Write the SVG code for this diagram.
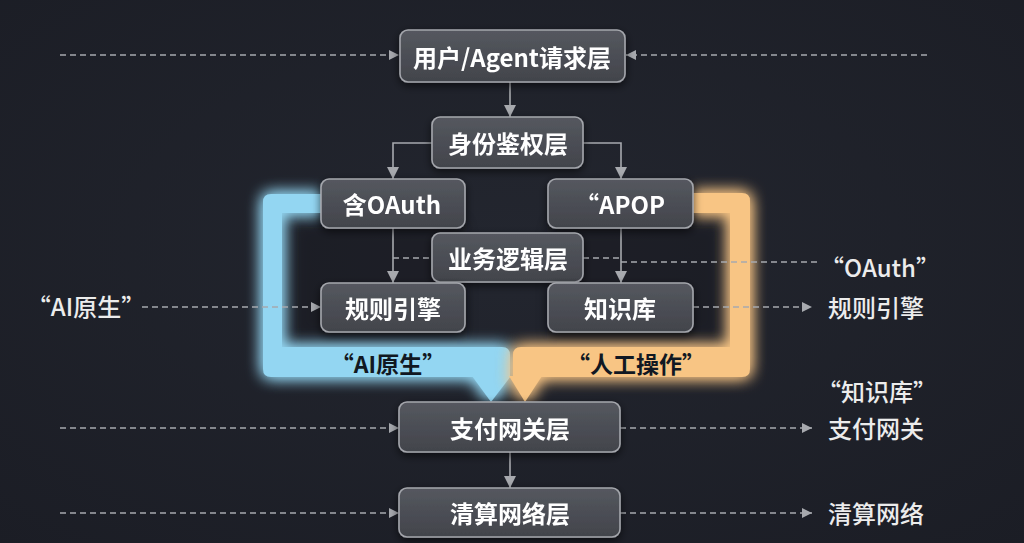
<svg xmlns="http://www.w3.org/2000/svg" width="1024" height="543" viewBox="0 0 1024 543">
  <defs>
    <radialGradient id="bg" cx="50%" cy="45%" r="75%">
      <stop offset="0" stop-color="#23262f"/>
      <stop offset="1" stop-color="#1b1d25"/>
    </radialGradient>
    <linearGradient id="nodeFill" x1="0" y1="0" x2="0" y2="1">
      <stop offset="0" stop-color="#55585f"/>
      <stop offset="1" stop-color="#42444b"/>
    </linearGradient>
    <filter id="glow" x="-30%" y="-30%" width="160%" height="160%">
      <feGaussianBlur in="SourceGraphic" stdDeviation="8" result="b"/>
      <feMerge><feMergeNode in="b"/><feMergeNode in="b"/><feMergeNode in="SourceGraphic"/></feMerge>
    </filter>
    <filter id="shadow" x="-20%" y="-30%" width="140%" height="170%">
      <feGaussianBlur in="SourceAlpha" stdDeviation="4"/>
      <feOffset dy="3" result="o"/>
      <feComponentTransfer><feFuncA type="linear" slope="0.6"/></feComponentTransfer>
      <feMerge><feMergeNode/><feMergeNode in="SourceGraphic"/></feMerge>
    </filter>
    <filter id="soft" x="-20%" y="-20%" width="140%" height="140%">
      <feGaussianBlur stdDeviation="8"/>
    </filter>
    <marker id="arr" viewBox="0 0 10 10" refX="10" refY="5" markerWidth="10" markerHeight="10" markerUnits="userSpaceOnUse" orient="auto">
      <path d="M0,0 L10,5 L0,10 Z" fill="#a7a9ae"/>
    </marker>
    <marker id="arrS" viewBox="0 0 12 12" refX="12" refY="6" markerWidth="12" markerHeight="12" markerUnits="userSpaceOnUse" orient="auto">
      <path d="M0,0 L12,6 L0,12 Z" fill="#a7a9ae"/>
    </marker>
  </defs>
  <style>
    .node rect { fill: url(#nodeFill); stroke: #a4a6ac; stroke-width: 1.6; }
    .node text { font-family: "Noto Sans CJK SC", "Noto Sans", sans-serif; font-size: 24px; font-weight: 700; fill: #ffffff; text-anchor: middle; dominant-baseline: central; }
    .side { font-family: "Noto Sans CJK SC", "Noto Sans", sans-serif; font-size: 24px; font-weight: 500; fill: #ececec; text-anchor: middle; dominant-baseline: central; }
    .band { font-family: "Noto Sans CJK SC", "Noto Sans", sans-serif; font-size: 23px; font-weight: 700; fill: #111822; text-anchor: middle; dominant-baseline: central; }
    .solid { fill: none; stroke: #a7a9ae; stroke-width: 1.6; }
    .dash { fill: none; stroke: #a7a9ae; stroke-width: 1.6; stroke-dasharray: 6 4; }
  </style>

  <rect x="0" y="0" width="1024" height="543" fill="url(#bg)"/>

  <!-- dark shadow inside highlight bands -->
  <rect x="292" y="222" width="170" height="118" fill="#14161c" opacity="0.4" filter="url(#soft)"/>
  <rect x="552" y="222" width="170" height="118" fill="#14161c" opacity="0.4" filter="url(#soft)"/>

  <!-- highlight bands -->
  <g id="band-ai">
    <g filter="url(#glow)">
      <path d="M321 194 L271 194 Q263 194 263 202 L263 369 Q263 377 271 377 L510 377 L510 355 Q510 347 502 347 L282 347 L282 213 L321 213 Z" fill="#93d6f2"/>
      <path d="M472 376 L511 376 L491 402 Z" fill="#93d6f2"/>
    </g>
    <text class="band" x="388" y="363">“AI原生”</text>
  </g>
  <g id="band-manual">
    <g filter="url(#glow)">
      <path d="M693 193 L742 193 Q750 193 750 201 L750 369 Q750 377 742 377 L513 377 L513 355 Q513 347 521 347 L730 347 L730 213 L693 213 Z" fill="#f8c584"/>
      <path d="M509 376 L542 376 L525 402 Z" fill="#f8c584"/>
    </g>
    <text class="band" x="636" y="363">“人工操作”</text>
  </g>

  <!-- connectors -->
  <g id="connectors">
    <path class="solid" d="M510 82 L510 117" marker-end="url(#arrS)"/>
    <path class="solid" d="M432 143 L393 143 L393 179" marker-end="url(#arrS)"/>
    <path class="solid" d="M583 143 L621 143 L621 179" marker-end="url(#arrS)"/>
    <path class="solid" d="M393 228 L393 283" marker-end="url(#arrS)"/>
    <path class="solid" d="M621 228 L621 283" marker-end="url(#arrS)"/>
    <path class="solid" d="M510 452 L510 488" marker-end="url(#arrS)"/>

    <path class="dash" d="M393 258 L432 258"/>
    <path class="dash" d="M583 258 L621 258"/>
    <path class="dash" d="M621 262 L819 262"/>

    <path class="dash" d="M60 55 L399 55" marker-end="url(#arr)"/>
    <path class="dash" d="M927 55 L626 55" marker-end="url(#arr)"/>
    <path class="dash" d="M142 307 L321 307" marker-end="url(#arr)"/>
    <path class="dash" d="M693 307 L812 307" marker-end="url(#arr)"/>
    <path class="dash" d="M60 428 L399 428" marker-end="url(#arr)"/>
    <path class="dash" d="M620 428 L812 428" marker-end="url(#arr)"/>
    <path class="dash" d="M60 513 L399 513" marker-end="url(#arr)"/>
    <path class="dash" d="M620 513 L812 513" marker-end="url(#arr)"/>
  </g>

  <!-- nodes -->
  <g id="n-request" class="node" filter="url(#shadow)">
    <rect x="400" y="30" width="225" height="52" rx="8"/>
    <text x="512" y="56">用户/Agent请求层</text>
  </g>
  <g id="n-auth" class="node" filter="url(#shadow)">
    <rect x="432" y="117" width="151" height="51" rx="8"/>
    <text x="508" y="142">身份鉴权层</text>
  </g>
  <g id="n-oauth" class="node" filter="url(#shadow)">
    <rect x="321" y="179" width="144" height="49" rx="8"/>
    <text x="392" y="203">含OAuth</text>
  </g>
  <g id="n-apop" class="node" filter="url(#shadow)">
    <rect x="548" y="179" width="145" height="49" rx="8"/>
    <text x="620" y="203">“APOP</text>
  </g>
  <g id="n-biz" class="node" filter="url(#shadow)">
    <rect x="432" y="233" width="151" height="49" rx="8"/>
    <text x="508" y="257">业务逻辑层</text>
  </g>
  <g id="n-rules" class="node" filter="url(#shadow)">
    <rect x="321" y="283" width="144" height="49" rx="8"/>
    <text x="393" y="307">规则引擎</text>
  </g>
  <g id="n-kb" class="node" filter="url(#shadow)">
    <rect x="548" y="283" width="145" height="49" rx="8"/>
    <text x="620" y="307">知识库</text>
  </g>
  <g id="n-gateway" class="node" filter="url(#shadow)">
    <rect x="399" y="402" width="221" height="50" rx="8"/>
    <text x="510" y="427">支付网关层</text>
  </g>
  <g id="n-clearing" class="node" filter="url(#shadow)">
    <rect x="399" y="488" width="221" height="49" rx="8"/>
    <text x="510" y="512">清算网络层</text>
  </g>

  <!-- side labels -->
  <g id="labels">
    <text class="side" x="86" y="305">“AI原生”</text>
    <text class="side" x="880" y="266">“OAuth”</text>
    <text class="side" x="876" y="306">规则引擎</text>
    <text class="side" x="877" y="390">“知识库”</text>
    <text class="side" x="876" y="427">支付网关</text>
    <text class="side" x="876" y="512">清算网络</text>
  </g>
</svg>
